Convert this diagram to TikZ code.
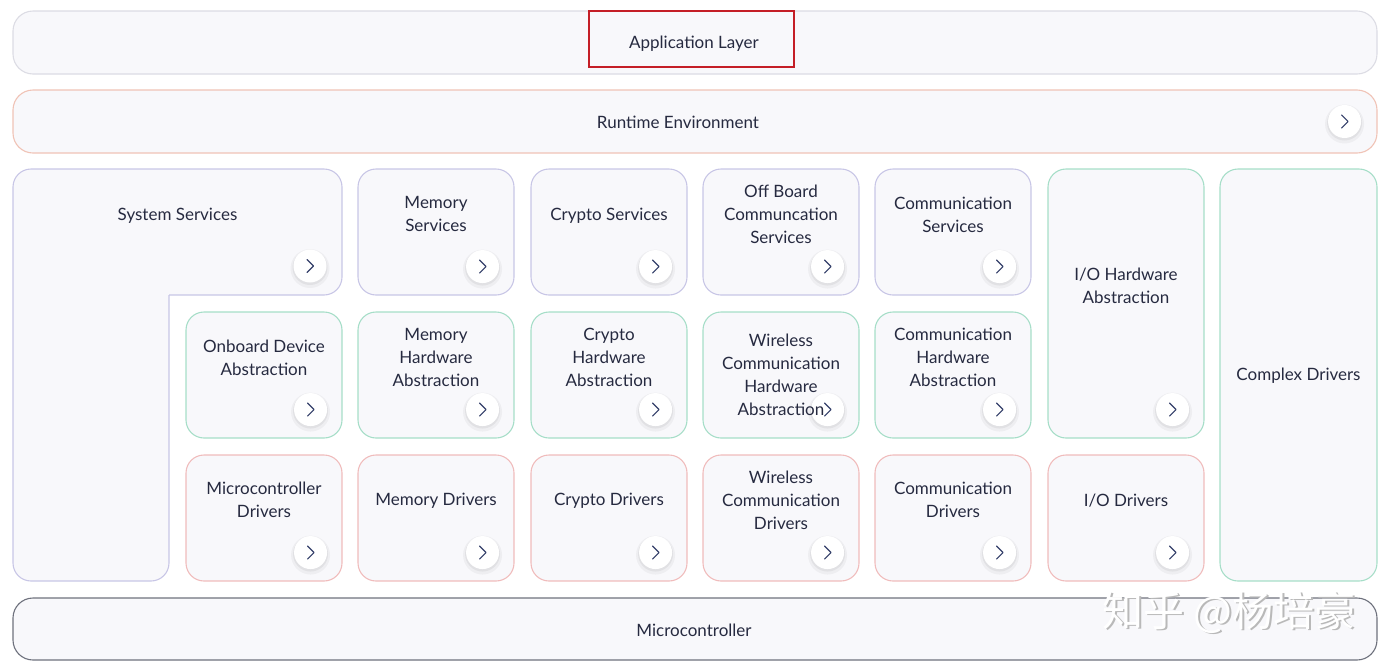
\documentclass[tikz,border=0pt]{standalone}
\usepackage{fontspec}
\setmainfont{Lato}
\newfontfamily\cjkfont{Noto Sans CJK SC}
\usepackage{tikz}
\usetikzlibrary{positioning, calc}
\definecolor{ink}{HTML}{262A40}
\definecolor{chevron}{HTML}{34406A}
\definecolor{cardbg}{HTML}{F8F8FB}
\definecolor{appborder}{HTML}{DCDCE4}
\definecolor{rteborder}{HTML}{F0C3B6}
\definecolor{srvborder}{HTML}{C8C6E6}
\definecolor{hwborder}{HTML}{A6DEC8}
\definecolor{drvborder}{HTML}{F0BCBC}
\definecolor{mcuborder}{HTML}{6E717D}
\definecolor{markred}{HTML}{C41E26}
\tikzset{
  font=\fontsize{17}{23}\selectfont,
  layerbox/.style={
    rectangle, rounded corners=18pt, line width=1.1pt,
    fill=cardbg, inner sep=0pt
  },
  barbox/.style={layerbox, rounded corners=20pt, minimum width=1364, minimum height=63},
  cellbox/.style={layerbox, minimum width=156, minimum height=126},
  srvbox/.style={cellbox, draw=srvborder},
  hwbox/.style={cellbox, draw=hwborder},
  drvbox/.style={cellbox, draw=drvborder},
  boxtext/.style={align=center, text=ink, inner sep=0pt},
  chevbtn/.pic={
    \fill[black, opacity=0.04] (0,2.5) circle (19.5);
    \fill[black, opacity=0.05] (0,1.5) circle (17.5);
    \fill[white] (0,0) circle (16.5);
    \draw[chevron, line width=1.1pt, line cap=round, line join=round]
      (-3,-6.5) -- (3.5,0) -- (-3,6.5);
  }
}

\begin{document}
\begin{tikzpicture}[x=1pt, y=-1pt]
  \useasboundingbox (0,0) rectangle (1394,670);

  % Top bars
  \node[barbox, draw=appborder] (app) at (695,42.5) {};
  \node[draw=markred, line width=2pt, minimum width=205, minimum height=56] (appmark) at (691.5,39) {};
  \node[boxtext] (app-t) at (694,43.5) {Application Layer};

  \node[barbox, draw=rteborder] (rte) at (695,121.5) {};
  \pic at ($(rte.east)+(-33,0)$) {chevbtn};
  \node[boxtext] (rte-t) at (678,122.5) {Runtime Environment};

  % System services (L-shaped)
  \filldraw[fill=cardbg, draw=srvborder, line width=1.1pt, rounded corners=18pt]
    (169,295) -- (342,295) -- (342,169) -- (13,169) -- (13,581) -- (169,581) -- (169,295);
  \pic at (310,266) {chevbtn};
  \node[boxtext] (syssrv-t) at (177.5,216) {System Services};

  % Services row
  \node[srvbox] (memsrv) at (436,232) {};
  \node[srvbox] (cryptosrv) at (609,232) {};
  \node[srvbox] (offbsrv) at (781,232) {};
  \node[srvbox] (comsrv) at (953,232) {};

  % Hardware abstraction row
  \node[hwbox] (onbhw) at (264,375) {};
  \node[hwbox] (memhw) at (436,375) {};
  \node[hwbox] (cryptohw) at (609,375) {};
  \node[hwbox] (wlhw) at (781,375) {};
  \node[hwbox] (comhw) at (953,375) {};
  \node[hwbox, minimum height=269] (iohw) at (1126,303.5) {};
  \node[hwbox, minimum width=157, minimum height=412] (cdd) at (1298.5,375) {};
  \node[boxtext] (cdd-t) at (1298.5,376) {Complex Drivers};

  % Drivers row
  \node[drvbox] (mcudrv) at (264,518) {};
  \node[drvbox] (memdrv) at (436,518) {};
  \node[drvbox] (cryptodrv) at (609,518) {};
  \node[drvbox] (wldrv) at (781,518) {};
  \node[drvbox] (comdrv) at (953,518) {};
  \node[drvbox] (iodrv) at (1126,518) {};

  % Microcontroller
  \node[barbox, draw=mcuborder, minimum height=62] (mcu) at (695,629) {};
  \node[boxtext] (mcu-t) at (694,630) {Microcontroller};

  % Buttons
  \foreach \b in {memsrv, cryptosrv, offbsrv, comsrv, onbhw, memhw, cryptohw, wlhw, comhw, iohw,
                  mcudrv, memdrv, cryptodrv, wldrv, comdrv, iodrv}
    \pic at ($(\b.south east)+(-32,-29)$) {chevbtn};

  % Labels
  \node[boxtext] (memsrv-t) at ($(memsrv.north)+(0,46)$) {Memory\\Services};
  \node[boxtext] (cryptosrv-t) at ($(cryptosrv.north)+(0,47)$) {Crypto Services};
  \node[boxtext] (offbsrv-t) at ($(offbsrv.north)+(0,46)$) {Off Board\\Communcation\\Services};
  \node[boxtext] (comsrv-t) at ($(comsrv.north)+(0,46)$) {Communication\\Services};
  \node[boxtext] (onbhw-t) at ($(onbhw.north)+(0,46)$) {Onboard Device\\Abstraction};
  \node[boxtext] (memhw-t) at ($(memhw.north)+(0,46)$) {Memory\\Hardware\\Abstraction};
  \node[boxtext] (cryptohw-t) at ($(cryptohw.north)+(0,46)$) {Crypto\\Hardware\\Abstraction};
  \node[boxtext] (wlhw-t) at ($(wlhw.north)+(0,63)$) {Wireless\\Communication\\Hardware\\Abstraction};
  \node[boxtext] (comhw-t) at ($(comhw.north)+(0,46)$) {Communication\\Hardware\\Abstraction};
  \node[boxtext] (iohw-t) at ($(iohw.north)+(0,117)$) {I/O Hardware\\Abstraction};
  \node[boxtext] (mcudrv-t) at ($(mcudrv.north)+(0,45)$) {Microcontroller\\Drivers};
  \node[boxtext] (memdrv-t) at ($(memdrv.north)+(0,46)$) {Memory Drivers};
  \node[boxtext] (cryptodrv-t) at ($(cryptodrv.north)+(0,46)$) {Crypto Drivers};
  \node[boxtext] (wldrv-t) at ($(wldrv.north)+(0,46)$) {Wireless\\Communication\\Drivers};
  \node[boxtext] (comdrv-t) at ($(comdrv.north)+(0,45)$) {Communication\\Drivers};
  \node[boxtext] (iodrv-t) at ($(iodrv.north)+(0,46)$) {I/O Drivers};

  % Watermark
  \node[text=gray!55, font=\cjkfont\fontsize{41}{44}\selectfont] (wmark) at (1230.5,614) {知乎 @杨培豪};
  \node[text=white, font=\cjkfont\fontsize{41}{44}\selectfont] (wmark-hl) at (1229,612.5) {知乎 @杨培豪};
\end{tikzpicture}
\end{document}
